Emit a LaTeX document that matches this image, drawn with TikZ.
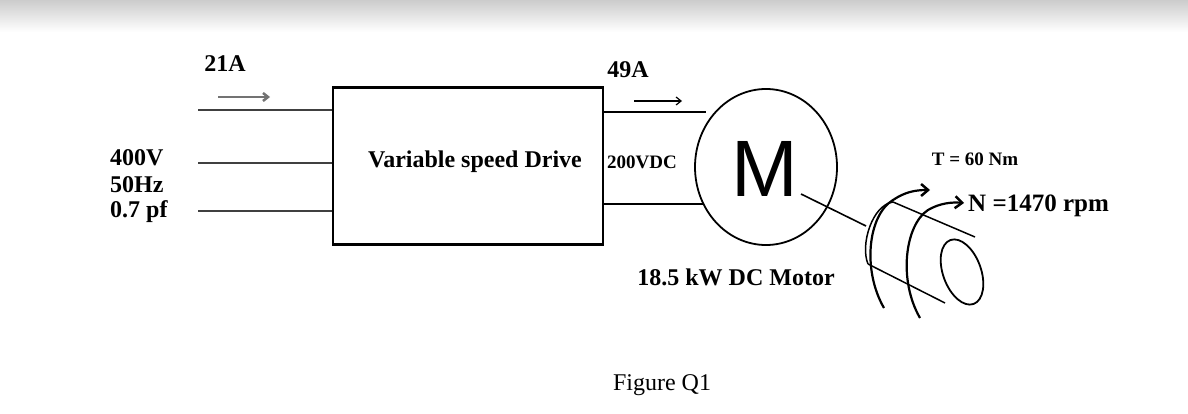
\documentclass[tikz,border=0pt]{standalone}
\usepackage{fontspec}
\setmainfont{Liberation Serif}
\setsansfont{Liberation Sans}
\usetikzlibrary{arrows.meta,shapes.geometric}
\begin{document}
\begin{tikzpicture}[x=1pt,y=-1pt,
  lbl/.style={font=\fontsize{24}{26}\selectfont\bfseries,inner sep=0pt},
  wire/.style={line width=1.6pt,draw=black!75},
  cur/.style={line width=2pt,-{Straight Barb[length=5pt,width=8pt]}},
  twist/.style={line width=2.2pt,-{Straight Barb[length=7pt,width=12pt,line width=2.5pt]}}]
\useasboundingbox (0,0) rectangle (1188,414);
\shade[top color=black!20,bottom color=white] (0,0) rectangle (1188,32);
% drive box
\node[draw,line width=1.5pt,minimum width=270pt,minimum height=156pt,inner sep=0pt] (vsd) at (468,166) {};
\draw[line width=3pt] (vsd.north west) -- (vsd.north east);
\draw[line width=3pt] (vsd.south west) -- (vsd.south east);
\node[lbl] (vsdt) at (475,162) {Variable speed Drive};
% inputs
\coordinate (i1) at (198,110); \coordinate (i2) at (198,163); \coordinate (i3) at (198,211);
\draw[wire] (i1) -- (i1 -| vsd.west);
\draw[wire] (i2) -- (i2 -| vsd.west);
\draw[wire] (i3) -- (i3 -| vsd.west);
\node[lbl,anchor=west] (v) at (110,158) {400V};
\node[lbl,anchor=west] (f) at (110,185) {50Hz};
\node[lbl,anchor=west] (p) at (110,212) {0.7 pf};
\node[lbl] (a21) at (225,64) {21A};
\coordinate (a1s) at (218,97); \coordinate (a1e) at (270,97);
\draw[cur,draw=black!55,line width=2.5pt] (a1s) -- (a1e);
% motor
\node[draw,line width=1.8pt,ellipse,minimum width=142pt,minimum height=156pt,inner sep=0pt] (m) at (766,167) {};
\node[font=\sffamily\fontsize{80}{80}\selectfont,inner sep=0pt] (mt) at (765,169) {M};
\coordinate (o1) at (603,112); \coordinate (o2) at (603,204);
\draw[line width=2.5pt] (o1) -- (706,112);
\draw[line width=2.5pt] (o2) -- (704,204);
\node[lbl,font=\fontsize{19}{21}\selectfont\bfseries,anchor=west] (vdc) at (607,162) {200VDC};
\node[lbl] (a49) at (628,70) {49A};
\coordinate (a2s) at (634,101); \coordinate (a2e) at (682,101);
\draw[cur,line width=1.2pt] (a2s) -- (a2e);
\node[lbl] (mot) at (736,277) {18.5 kW DC Motor};
% shaft and cylinder
\coordinate (sh1) at (801,194); \coordinate (sh2) at (866,226);
\draw[line width=1.6pt] (sh1) -- (sh2);
\draw[line width=1.5pt] (893,202) -- (975,237);
\draw[line width=1.5pt] (868,264) -- (945,303);
\draw[line width=1.5pt] (893,202) .. controls (872,205) and (860,245) .. (868,264);
\draw[line width=1.8pt,rotate around={20:(962,272)}] (962,272) ellipse (19pt and 34pt);
\draw[twist] (884,308) .. controls (862,270) and (868,215) .. (893,200) .. controls (905,192) and (915,190) .. (930,190);
\draw[twist] (920,318) .. controls (898,280) and (905,225) .. (928,210) .. controls (940,203) and (952,202) .. (964,203);
\node[lbl,font=\fontsize{19}{21}\selectfont\bfseries] (tq) at (975,159) {T = 60 Nm};
\node[lbl,font=\fontsize{25}{27}\selectfont\bfseries,anchor=west] (sp) at (968,206) {N =1470 rpm};
\node[inner sep=0pt,font=\fontsize{24}{26}\selectfont] (cap) at (662,385) {Figure Q1};
\end{tikzpicture}
\end{document}
